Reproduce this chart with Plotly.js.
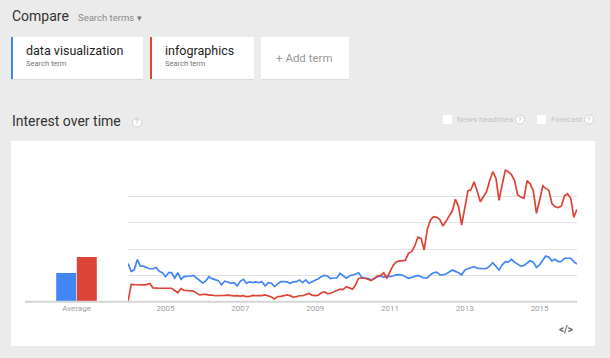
<!DOCTYPE html>
<html>
<head>
<meta charset="utf-8">
<script src="https://cdn.plot.ly/plotly-3.0.1.min.js"></script>
<style>
html,body{margin:0;padding:0;background:#ebebeb;}
#chart{width:610px;height:358px;}
</style>
</head>
<body>
<div id="chart"></div>
<script>
// ---- data ----
const seriesNames = ["data visualization", "infographics"];
const seriesColors = ["#4285f4", "#db4437"];
const startYear = 2004;
const avgCategory = ["Average"];
const avgDataVis = [21.8];
const avgInfographics = [34];
const tickYears = ["2005", "2007", "2009", "2011", "2013", "2015"];
const dataVis = [29,23,24,32,27,27,26,25,25,26,
23,22,19,22,22,18,22,17,19,19,
19.5,20,18,15.5,14,16,19,17.5,16.5,16,
12.7,15.5,15,14,14.5,12,15.5,17,14,15,
14.5,15,14.5,15.2,11.9,14.5,14,11.4,13.5,15.2,
15.2,15,14,15,15.2,16.5,14.5,16.5,14,15,
16,17.5,19,20,19.5,17.5,18,18,21.6,19.5,
17.8,19.5,20,21,22,18.5,18,17.8,16.5,18,
19,19.5,18.5,19.5,19,19.5,20.3,20.5,20.3,19,
17.8,18.5,19.5,20,19,18,18,20.5,22,22.5,
20.5,20.3,21,22.5,24,23,22,20.3,24,25,
25.5,26.6,25.5,25,25,25.3,27,29.6,27,24,
28,30.4,30,32.2,30,28.5,27,27.5,29,31.1,
30,26,28,32,34.7,33.7,31,32.2,30.4,30.5,
33,33,33,30.4,28.6];
const infographics = [0,13.2,13,12.8,12.8,12.8,13,13.8,10.5,10.2,
10.2,10.2,10.2,10.2,10.2,8.5,6.8,10,8.5,8.5,
8.5,8,6.5,5.1,5.5,5.6,5,5.1,4.5,4.5,
4.3,4.8,5,4.6,4.4,4.6,4.2,4.6,3.8,4,
4.8,4.6,4.4,4.6,5.1,4.3,3.6,2,3.8,4,
4.6,5.2,4.6,3.4,3.9,4.5,4.5,5.6,6.2,5,
4.6,5,6.8,7.5,6.2,6.4,7.5,9,9.6,9.2,
11.4,10.5,9.5,13,17.8,17.8,17.8,17,16,17.5,
19.5,20,22,17.8,22.8,27.5,30,31,31,31.5,
36.7,38,42.5,49,48,39.3,55,62,64.5,64,
62.5,57.5,61,64.5,69,77.8,72,58.2,72,84.3,
85,91,84,75.9,79.7,83.5,92,98.7,93.7,77,
89,100,98.7,96.5,92,81,79.5,78.5,91.9,89.5,
84,67.1,77,87.9,86,84.5,74.5,72.1,71.5,72.5,
80.5,81.8,78.5,64.1,70.2];

// monthly dates
const months = [];
for (let i = 0; i < dataVis.length; i++) {
  const y = startYear + Math.floor(i / 12), m = (i % 12) + 1;
  months.push(y + "-" + String(m).padStart(2, "0") + "-01");
}
const tickVals = tickYears.map(y => y + "-01-01");

// ---- helpers for layout placement ----
const W = 610, H = 358;
const px = x => x / W;
const py = y => 1 - y / H;
const FONT = "Roboto, 'Open Sans', Arial, sans-serif";

const yDom = [py(301.7), py(169.3)];
const yRange = [0, 100.5];

const traces = [
  {type: "bar", x: avgCategory, y: avgDataVis, name: seriesNames[0], marker: {color: seriesColors[0]}, xaxis: "x", yaxis: "y", hoverinfo: "skip"},
  {type: "bar", x: avgCategory, y: avgInfographics, name: seriesNames[1], marker: {color: seriesColors[1]}, xaxis: "x", yaxis: "y", hoverinfo: "skip"},
  {type: "scatter", mode: "lines", x: months, y: dataVis, name: seriesNames[0], line: {color: seriesColors[0], width: 1.7}, xaxis: "x2", yaxis: "y2"},
  {type: "scatter", mode: "lines", x: months, y: infographics, name: seriesNames[1], line: {color: seriesColors[1], width: 1.7}, xaxis: "x2", yaxis: "y2"}
];

const shapes = [];
const rect = (x0, y0, x1, y1, fill, line) => shapes.push({type: "rect", xref: "paper", yref: "paper", x0: px(x0), x1: px(x1), y0: py(y1), y1: py(y0), fillcolor: fill, line: line || {width: 0}, layer: "below"});
// white main panel
rect(11, 141, 595, 346, "#ffffff");
// cards (shadow + body)
rect(11, 38, 143, 80, "#d9d9d9");
rect(11, 37, 143, 79, "#ffffff");
rect(11, 37, 13, 79, seriesColors[0]);
rect(150, 38, 254, 80, "#d9d9d9");
rect(150, 37, 254, 79, "#ffffff");
rect(150, 37, 152, 79, seriesColors[1]);
rect(261, 38, 349, 80, "#dcdcdc");
rect(261, 37, 349, 79, "#ffffff");
// checkboxes
rect(443, 115, 452, 124, "#ffffff");
rect(537, 115, 546, 124, "#ffffff");
// help circles
const circ = (cx, cy, r) => shapes.push({type: "circle", xref: "paper", yref: "paper", x0: px(cx - r), x1: px(cx + r), y0: py(cy + r), y1: py(cy - r), fillcolor: "#ffffff", line: {color: "#d0d0d0", width: 1}, layer: "below"});
circ(137, 122.5, 4.5);
circ(520, 119.5, 4.5);
circ(589, 119.5, 4.5);
// baseline
shapes.push({type: "line", xref: "paper", yref: "paper", x0: px(25), x1: px(577), y0: py(301.7), y1: py(301.7), line: {color: "#d4d4d4", width: 2}, layer: "above"});

const ann = (x, y, text, size, color, extra) => Object.assign({xref: "paper", yref: "paper", x: px(x), y: py(y), text: text, showarrow: false, xanchor: "left", yanchor: "middle", font: {family: FONT, size: size, color: color}}, extra || {});
const annotations = [
  ann(10, 16.5, "Compare", 14, "#333333"),
  ann(76, 17.5, "Search terms", 9.5, "#8a8a8a"),
  ann(135, 18, "▾", 9, "#777777"),
  ann(24, 51, seriesNames[0], 12.5, "#222222"),
  ann(24, 63, "Search term", 7.5, "#777777"),
  ann(163, 51, seriesNames[1], 12.5, "#222222"),
  ann(163, 63, "Search term", 7.5, "#777777"),
  ann(274, 58, "+ Add term", 11.5, "#9a9a9a"),
  ann(10, 120.5, "Interest over time", 14, "#333333"),
  ann(137, 122.5, "?", 7, "#aaaaaa", {xanchor: "center"}),
  ann(455, 119.5, "News headlines", 8, "#c4c4c4"),
  ann(520, 119.5, "?", 7, "#bbbbbb", {xanchor: "center"}),
  ann(549, 119.5, "Forecast", 8, "#c4c4c4"),
  ann(589, 119.5, "?", 7, "#bbbbbb", {xanchor: "center"}),
  ann(566, 329, "&lt;/&gt;", 10, "#666666", {xanchor: "center", font: {family: FONT, size: 10, color: "#666666", weight: "bold"}})
];

const layout = {
  width: W, height: H,
  margin: {l: 0, r: 0, t: 0, b: 0, pad: 0},
  paper_bgcolor: "#ebebeb",
  plot_bgcolor: "rgba(0,0,0,0)",
  showlegend: false,
  barmode: "group",
  bargap: 0.6,
  bargroupgap: 0.03,
  font: {family: FONT},
  xaxis: {domain: [px(25), px(128)], anchor: "y", type: "category", showgrid: false, zeroline: false, showline: false, ticks: "", tickfont: {family: FONT, size: 8, color: "#9e9e9e"}, fixedrange: true},
  yaxis: {domain: yDom, anchor: "x", range: yRange, showgrid: false, zeroline: false, showticklabels: false, showline: false, fixedrange: true},
  xaxis2: {domain: [px(128), px(577)], anchor: "y2", type: "date", range: [months[0], months[months.length - 1]], tickmode: "array", tickvals: tickVals, ticktext: tickYears, showgrid: false, zeroline: false, showline: false, ticks: "", tickfont: {family: FONT, size: 8, color: "#9e9e9e"}, fixedrange: true},
  yaxis2: {domain: yDom, anchor: "x2", range: yRange, showgrid: true, gridcolor: "#e3e3e3", gridwidth: 1, tickmode: "array", tickvals: [20, 40, 60, 80, 100], zeroline: false, showticklabels: false, showline: false, fixedrange: true},
  shapes: shapes,
  annotations: annotations
};

Plotly.newPlot("chart", traces, layout, {displayModeBar: false, staticPlot: true});
</script>
</body>
</html>
